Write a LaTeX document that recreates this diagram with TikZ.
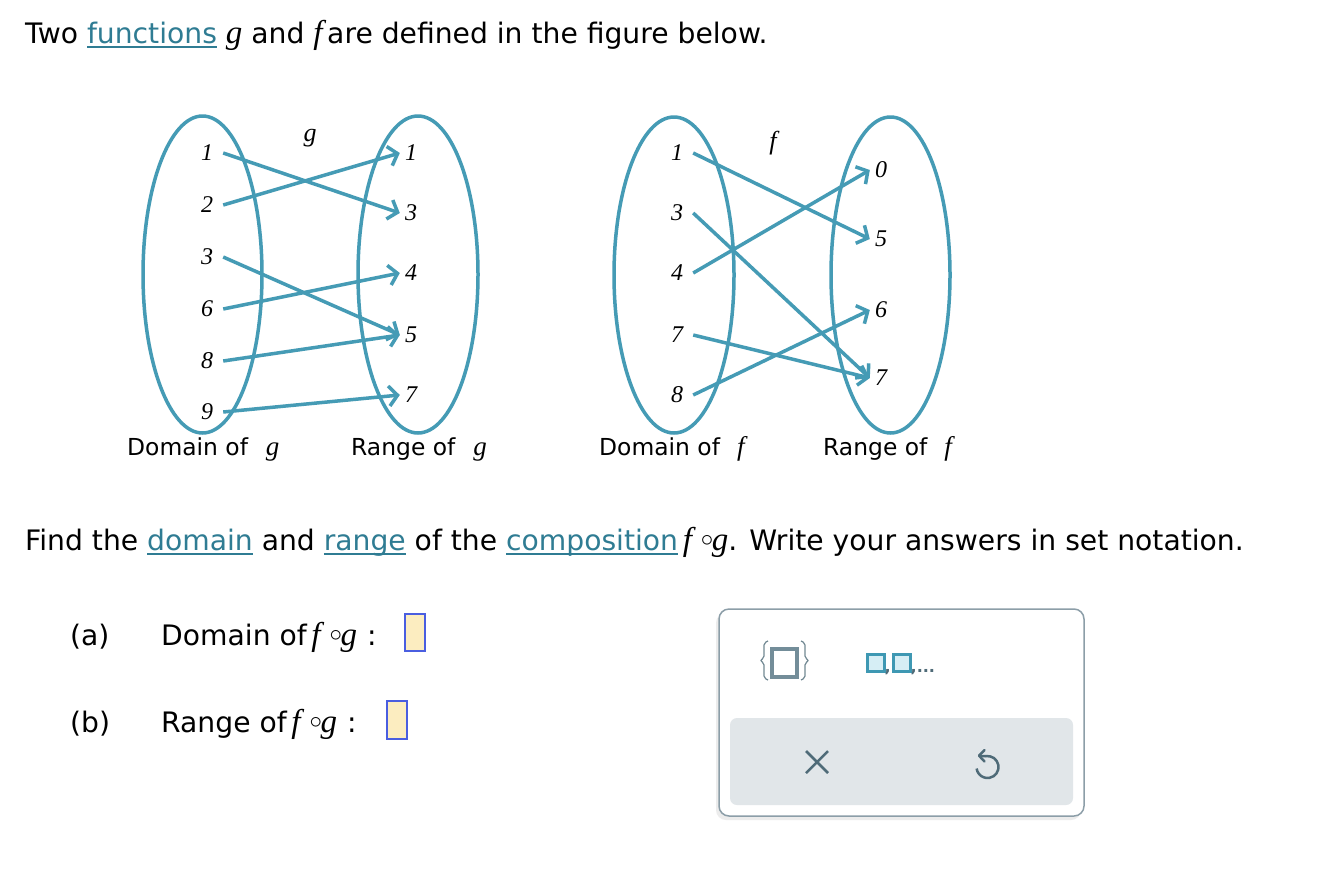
\documentclass[tikz,border=0pt]{standalone}
\usepackage{fontspec}
\setmainfont{DejaVu Sans}
\newfontfamily\tmfont{Liberation Serif}
\usetikzlibrary{arrows.meta,shadows}
\definecolor{teal}{HTML}{459BB5}
\definecolor{linkc}{HTML}{2F7C93}
\definecolor{panelc}{HTML}{8C9EA8}
\definecolor{btnfill}{HTML}{E1E6E9}
\definecolor{icongray}{HTML}{738D99}
\definecolor{iconblue}{HTML}{3E98B3}
\definecolor{iconfill}{HTML}{D6EEF5}
\definecolor{darkicon}{HTML}{4F6B78}
\definecolor{ansfill}{HTML}{FCEDC0}
\definecolor{ansborder}{HTML}{4A5EE0}
\newcommand\mi[1]{{\fontsize{33}{34}\selectfont\tmfont\itshape #1}}
\newcommand\dmi[1]{{\fontsize{27}{28}\selectfont\tmfont\itshape #1}}
\newcommand\lnk[1]{\setbox0\hbox{#1}\textcolor{linkc}{\rlap{\rule[-5pt]{\wd0}{1.6pt}}\box0}}
\newcommand\fog{\mi{f}\hspace{9pt}\raisebox{3.5pt}{\fontsize{32}{32}\selectfont$\circ$}\hspace{-1.5pt}\mi{g}}
\begin{document}
\begin{tikzpicture}[x=1pt,y=-1pt,
  txt/.style={anchor=base west,inner sep=0pt,font=\fontsize{28.2}{32}\selectfont},
  dtxt/.style={anchor=base west,inner sep=0pt,font=\fontsize{23.4}{26}\selectfont},
  num/.style={inner sep=0pt,font=\fontsize{24}{26}\selectfont\tmfont\itshape},
  lnum/.style={num,minimum width=32pt},
  rnum/.style={num,minimum width=22pt},
  setell/.style={draw=teal,line width=3.5pt},
  maparrow/.style={draw=teal,line width=3.5pt,-{Straight Barb[length=8.5pt,width=20pt]}},
  fname/.style={inner sep=0pt,font=\fontsize{26}{28}\selectfont\tmfont\itshape},
  ansbox/.style={draw=ansborder,fill=ansfill,line width=1.8pt},
  sqicon/.style={draw=iconblue,fill=iconfill,line width=3pt}]
\useasboundingbox[fill=white] (0,0) rectangle (1340,876);
% title
\node[txt] (title) at (25,43) {Two \lnk{functions} \mi{g} and \mi{f}\,are defined in the figure below.};
% ---- diagram g ----
\draw[setell] (202.5,274.5) ellipse [x radius=59.5, y radius=158.5];
\draw[setell] (418,274.5) ellipse [x radius=60, y radius=158.5];
\node[lnum] (gd1) at (207,153) {1};
\node[lnum] (gd2) at (207,205) {2};
\node[lnum] (gd3) at (207,257) {3};
\node[lnum] (gd6) at (207,309) {6};
\node[lnum] (gd8) at (207,361) {8};
\node[lnum] (gd9) at (207,412) {9};
\node[rnum] (gr1) at (411,153) {1};
\node[rnum] (gr3) at (411,213) {3};
\node[rnum] (gr4) at (411,273) {4};
\node[rnum] (gr5) at (411,335) {5};
\node[rnum] (gr7) at (411,395) {7};
\draw[maparrow] (gd1.east) -- (gr3.west);
\draw[maparrow] (gd2.east) -- (gr1.west);
\draw[maparrow] (gd3.east) -- (gr5.west);
\draw[maparrow] (gd6.east) -- (gr4.west);
\draw[maparrow] (gd8.east) -- (gr5.west);
\draw[maparrow] (gd9.east) -- (gr7.west);
\node[fname] (gname) at (310,138) {g};
\node[dtxt] (gdom) at (127,455) {Domain of\hspace{18pt}\dmi{g}};
\node[dtxt] (gran) at (351,455) {Range of\hspace{18pt}\dmi{g}};
% ---- diagram f ----
\draw[setell] (674,275) ellipse [x radius=60, y radius=158];
\draw[setell] (890.5,275) ellipse [x radius=59.5, y radius=158];
\node[lnum] (fd1) at (677,153) {1};
\node[lnum] (fd3) at (677,213) {3};
\node[lnum] (fd4) at (677,273) {4};
\node[lnum] (fd7) at (677,335) {7};
\node[lnum] (fd8) at (677,395) {8};
\node[rnum] (fr0) at (881,170) {0};
\node[rnum] (fr5) at (881,239) {5};
\node[rnum] (fr6) at (881,310) {6};
\node[rnum] (fr7) at (881,378) {7};
\draw[maparrow] (fd1.east) -- (fr5.west);
\draw[maparrow] (fd3.east) -- (fr7.west);
\draw[maparrow] (fd4.east) -- (fr0.west);
\draw[maparrow] (fd7.east) -- (fr7.west);
\draw[maparrow] (fd8.east) -- (fr6.west);
\node[fname] (fname) at (773,143) {f};
\node[dtxt] (fdom) at (599,455) {Domain of\hspace{17pt}\dmi{f}};
\node[dtxt] (fran) at (823,455) {Range of\hspace{17pt}\dmi{f}};
% question
\node[txt] (question) at (25,550) {Find the \lnk{domain} and \lnk{range} of the \lnk{composition}\,\fog. Write your answers in set notation.};
\node[txt] (pa) at (70,645) {(a)};
\node[txt] (qa) at (161,645) {Domain of\,\fog\hspace{10pt}:};
\draw[ansbox] (405,614) rectangle (425,651);
\node[txt] (pb) at (70,732) {(b)};
\node[txt] (qb) at (161,732) {Range of\,\fog\hspace{10pt}:};
\draw[ansbox] (387,701) rectangle (407,739);
% panel
\draw[draw=panelc,fill=white,line width=1.5pt,rounded corners=10pt,
  drop shadow={opacity=0.15,shadow xshift=-3pt,shadow yshift=-4pt}] (719,609) rectangle (1084,816);
\fill[btnfill,rounded corners=7pt] (730,718) rectangle (1073,805);
% set icon
\draw[icongray,line width=3.5pt] (772,649) rectangle (797,677);
\draw[darkicon!80,line width=1.2pt,rounded corners=2pt] (768,641) -- (764,643) -- (764,658) -- (760,660.5) -- (764,663) -- (764,678) -- (768,680);
\draw[darkicon!80,line width=1.2pt,rounded corners=2pt] (801,641) -- (805,643) -- (805,658) -- (809,660.5) -- (805,663) -- (805,678) -- (801,680);
% list icon
\draw[sqicon] (867,654) rectangle (884,671);
\draw[sqicon] (893,654) rectangle (910,671);
\node[anchor=base west,inner sep=0pt,text=darkicon,font=\fontsize{16}{16}\selectfont\bfseries] (c1) at (884.5,672) {,};
\node[anchor=base west,inner sep=0pt,text=darkicon,font=\fontsize{16}{16}\selectfont\bfseries] (c2) at (910.5,672) {,...};
% clear icon
\draw[darkicon,line width=2.5pt] (806,751) -- (828,773) (828,751) -- (806,773);
% undo icon
\draw[darkicon,line width=2.5pt] (987.5,767) ++(-100:11) arc[start angle=-100, end angle=172, radius=11];
\draw[darkicon,line width=2.5pt,line cap=round,line join=round] (985.6,756.2) -- (980,756);
\draw[darkicon,line width=2.5pt,line cap=round,line join=round] (984.5,750) -- (979,755.6) -- (984.5,761.5);
\end{tikzpicture}
\end{document}
